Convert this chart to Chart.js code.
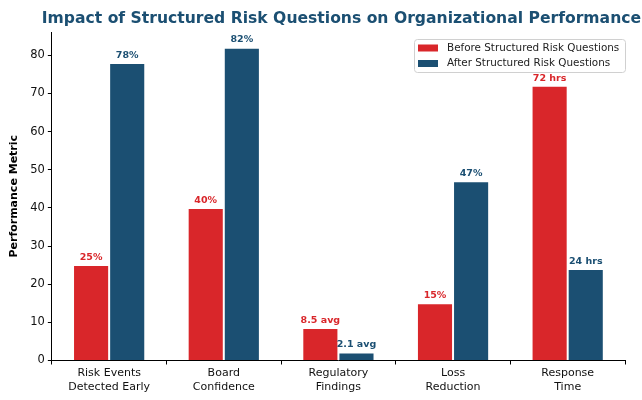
<!DOCTYPE html>
<html>
<head>
<meta charset="utf-8">
<script src="https://cdn.jsdelivr.net/npm/chart.js@4.4.0/dist/chart.umd.min.js"></script>
<style>
  html, body { margin: 0; padding: 0; background: #fff; }
</style>
</head>
<body>
<canvas id="riskChart" width="642" height="400"></canvas>
<script>
const categories = [
    ['Risk Events', 'Detected Early'],
    ['Board', 'Confidence'],
    ['Regulatory', 'Findings'],
    ['Loss', 'Reduction'],
    ['Response', 'Time']
];
const beforeValues = [25, 40, 8.5, 15, 72];
const afterValues = [78, 82, 2.1, 47, 24];
const beforeLabels = ['25%', '40%', '8.5 avg', '15%', '72 hrs'];
const afterLabels = ['78%', '82%', '2.1 avg', '47%', '24 hrs'];
const yMax = 86.1;
const chartTitle = 'Impact of Structured Risk Questions on Organizational Performance';

const red = '#d9262a';
const blue = '#1b4f72';

// value text above each bar
const barLabels = {
    id: 'barLabels',
    afterDatasetsDraw(chart) {
        const ctx = chart.ctx;
        const texts = [beforeLabels, afterLabels];
        ctx.save();
        ctx.font = 'bold 9.5px "DejaVu Sans"';
        ctx.textAlign = 'center';
        ctx.textBaseline = 'bottom';
        chart.data.datasets.forEach((ds, i) => {
            ctx.fillStyle = ds.backgroundColor;
            chart.getDatasetMeta(i).data.forEach((bar, j) => {
                ctx.fillText(texts[i][j], bar.x, bar.y - 3);
            });
        });
        ctx.restore();
    }
};

// title centred over the plot area, allowed to run past the canvas edge
const axesTitle = {
    id: 'axesTitle',
    afterDraw(chart) {
        const ctx = chart.ctx;
        const area = chart.chartArea;
        ctx.save();
        ctx.font = 'bold 15.6px "DejaVu Sans"';
        ctx.fillStyle = blue;
        ctx.textAlign = 'center';
        ctx.textBaseline = 'middle';
        ctx.fillText(chartTitle, (area.left + area.right) / 2 + 3, 19);
        ctx.restore();
    }
};

// matplotlib-like legend box in the upper right of the plot
const boxLegend = {
    id: 'boxLegend',
    afterDraw(chart) {
        const ctx = chart.ctx;
        const area = chart.chartArea;
        const w = 211, h = 33;
        const x = area.right - w, y = area.top + 7;
        ctx.save();
        ctx.fillStyle = 'rgba(255,255,255,0.8)';
        ctx.strokeStyle = '#d0d0d0';
        ctx.lineWidth = 1;
        ctx.beginPath();
        ctx.roundRect(x + 0.5, y + 0.5, w, h, 3);
        ctx.fill();
        ctx.stroke();
        ctx.font = '10.4px "DejaVu Sans"';
        ctx.textBaseline = 'middle';
        chart.data.datasets.forEach((ds, i) => {
            const cy = y + 9 + i * 15.5;
            ctx.fillStyle = ds.backgroundColor;
            ctx.fillRect(x + 4, cy - 3.5, 20, 7);
            ctx.fillStyle = '#222';
            ctx.fillText(ds.label, x + 33, cy);
        });
        ctx.restore();
    }
};

new Chart('riskChart', {
    type: 'bar',
    data: {
        labels: categories,
        datasets: [
            {
                label: 'Before Structured Risk Questions',
                data: beforeValues,
                backgroundColor: red,
                borderColor: '#ffffff',
                borderWidth: 1
            },
            {
                label: 'After Structured Risk Questions',
                data: afterValues,
                backgroundColor: blue,
                borderColor: '#ffffff',
                borderWidth: 1
            }
        ]
    },
    options: {
        responsive: false,
        animation: false,
        layout: { padding: { left: 8, right: 17, top: 32, bottom: 4 } },
        datasets: {
            bar: { categoryPercentage: 0.63, barPercentage: 1.0 }
        },
        plugins: {
            legend: { display: false },
            tooltip: { enabled: false },
            title: { display: false }
        },
        scales: {
            x: {
                grid: { display: true, drawOnChartArea: false, drawTicks: true, tickLength: 4, color: '#000' },
                border: { display: true, color: '#000', width: 1 },
                ticks: {
                    color: '#111',
                    maxRotation: 0,
                    padding: 2,
                    font: { family: 'DejaVu Sans', size: 11, lineHeight: 1.25 }
                }
            },
            y: {
                min: 0,
                max: yMax,
                grid: { display: true, drawOnChartArea: false, drawTicks: true, tickLength: 4, color: '#000' },
                border: { display: true, color: '#000', width: 1 },
                ticks: {
                    stepSize: 10,
                    includeBounds: false,
                    color: '#111',
                    padding: 3,
                    font: { family: 'DejaVu Sans', size: 11.5 }
                },
                title: {
                    display: true,
                    text: 'Performance Metric',
                    color: '#000',
                    font: { family: 'DejaVu Sans', size: 11, weight: 'bold' },
                    padding: { top: 0, bottom: 6 }
                }
            }
        }
    },
    plugins: [barLabels, axesTitle, boxLegend]
});
</script>
</body>
</html>
